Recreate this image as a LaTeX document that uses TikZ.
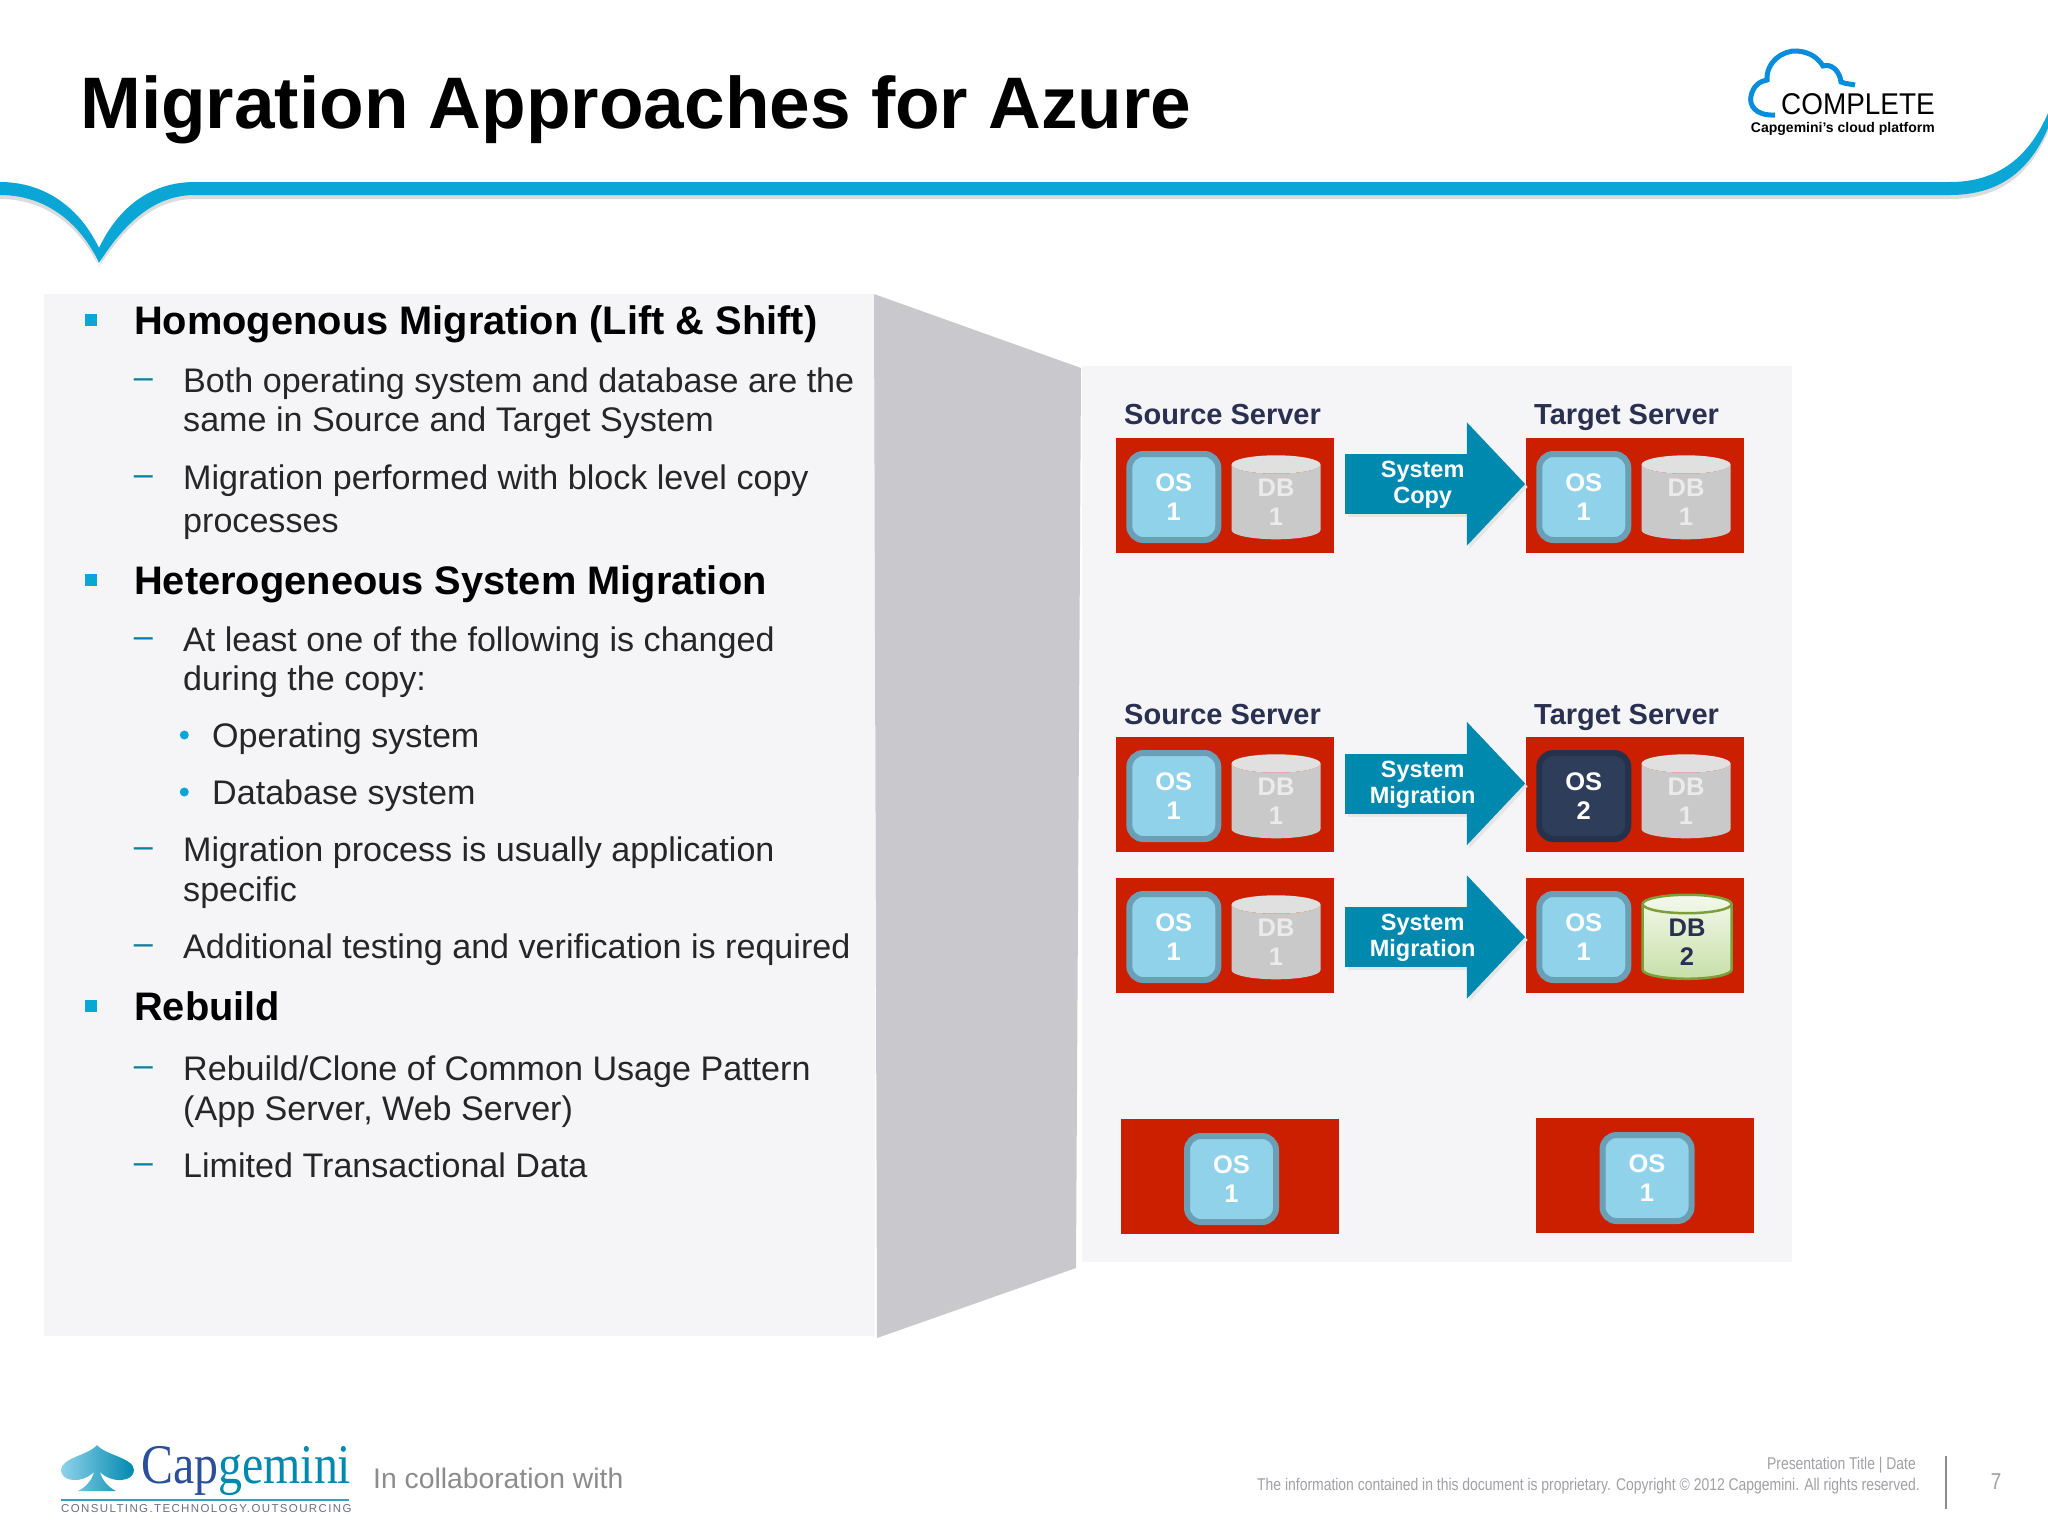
\documentclass[tikz,border=0pt]{standalone}
\usepackage{fontspec}
\setmainfont{Liberation Sans}
\newfontfamily\logoserif{Liberation Serif}
\usetikzlibrary{positioning,shapes.geometric,arrows.meta}

\definecolor{bandblue}{HTML}{0AA6D6}
\definecolor{panelgrey}{HTML}{F5F5F8}
\definecolor{wedgegrey}{HTML}{C9C8CC}
\definecolor{serverred}{HTML}{CC1F00}
\definecolor{headnavy}{HTML}{2A3050}
\definecolor{flowteal}{HTML}{0089AF}
\definecolor{dashteal}{HTML}{0D7F9F}
\definecolor{footgrey}{HTML}{A0A0A5}
\definecolor{logoblue}{HTML}{2B4F9B}

\tikzset{
  headtext/.style={anchor=west, inner sep=0pt, text height=36pt, text depth=8pt, font=\fontsize{39.8}{40}\selectfont\bfseries},
  subtext/.style={anchor=west, inner sep=0pt, text height=31pt, text depth=7pt, text=black!85, font=\fontsize{34.1}{34.1}\selectfont},
  sqbullet/.style={fill=bandblue, inner sep=0pt, minimum size=12pt},
  dashmark/.style={inner sep=0pt, text=dashteal, yshift=-4pt, font=\fontsize{34.1}{34.1}\selectfont},
  dotmark/.style={circle, fill=bandblue, inner sep=0pt, minimum size=9pt},
  servertitle/.style={anchor=west, inner sep=0pt, text height=27.5pt, text depth=6pt, text=headnavy, font=\fontsize{29}{29}\selectfont\bfseries},
  serverbox/.style={fill=serverred, inner sep=0pt, minimum width=218pt, minimum height=115pt},
  osbox/.style={draw=#1, line width=6pt, rounded corners=14pt, minimum width=89pt, minimum height=86pt, inner sep=0pt, align=center, text=white, font=\fontsize{25.5}{29.5}\selectfont\bfseries},
  osblue/.style={osbox=osedge, fill=osfill},
  osdark/.style={osbox=darkedge, fill=darkfill},
  dbbox/.style={cylinder, shape border rotate=90, aspect=0.5, minimum width=89pt, minimum height=84pt, inner sep=0pt, align=center, font=\fontsize{25.5}{29.5}\selectfont\bfseries},
  dbgrey/.style={dbbox, cylinder uses custom fill, cylinder end fill=black!12, cylinder body fill=black!21, text=white!92!black},
  dbgreen/.style={dbbox, draw=dbedge, line width=2.5pt, top color=dbtop, bottom color=dbbottom, text=headnavy},
  flowarrow/.style={draw=flowteal, line width=60pt, -{Triangle[length=58.5pt,width=120pt]}},
  flowshadow/.style={draw=black!10, line width=60pt, -{Triangle[length=58.5pt,width=120pt]}},
  flowlabel/.style={inner sep=0pt, align=center, text=white, yshift=-1pt, font=\fontsize{23.5}{26}\selectfont\bfseries},
  footnote/.style={inner sep=0pt, text=footgrey, xscale=.82, transform shape, font=\fontsize{17}{17}\selectfont}
}
\definecolor{osfill}{HTML}{8FD2EA}
\definecolor{osedge}{HTML}{6A9FB5}
\definecolor{darkfill}{HTML}{2E3D59}
\definecolor{darkedge}{HTML}{26324C}
\definecolor{dbedge}{HTML}{7D9F3A}
\definecolor{dbtop}{HTML}{F4F9EC}
\definecolor{dbbottom}{HTML}{C7E0A8}

\begin{document}
\begin{tikzpicture}[x=1pt,y=-1pt]
\useasboundingbox (0,0) rectangle (2048,1536);

% ======================================
% HEADER: TITLE, BAND AND CLOUD
% ======================================
\fill[black!14] (0,186) .. controls (45,186) and (80,212) .. (99,267) .. controls (118,212) and (150,186) .. (195,186) -- (1950,186) .. controls (2000,186) and (2030,159) .. (2048,117) -- (2048,132) .. controls (2030,174) and (2000,199) .. (1950,199) -- (195,199) .. controls (155,199) and (125,226) .. (99,267) .. controls (80,226) and (45,199) .. (0,199) -- cycle;
\fill[bandblue] (0,182) .. controls (45,182) and (80,208) .. (99,248) .. controls (118,208) and (150,182) .. (195,182) -- (1950,182) .. controls (2000,182) and (2030,155) .. (2048,113) -- (2048,128) .. controls (2030,170) and (2000,195) .. (1950,195) -- (195,195) .. controls (155,195) and (125,222) .. (99,263) .. controls (80,222) and (45,195) .. (0,195) -- cycle;

\node[anchor=west, inner sep=0pt, font=\fontsize{73}{73}\selectfont\bfseries] (title) at (80,110) {Migration Approaches for Azure};

\draw[line width=5pt, color=bandblue!85!blue] (1775,115) .. controls (1755,116) and (1749,105) .. (1751,96) .. controls (1753,86) and (1760,81) .. (1767,80) .. controls (1766,62) and (1783,50) .. (1797,51) .. controls (1810,52) and (1818,58) .. (1823,66) .. controls (1832,63) and (1840,72) .. (1841,82) .. controls (1846,84) and (1851,84) .. (1855,85);
\node[anchor=west, inner sep=0pt, font=\fontsize{30}{30}\selectfont, xscale=.93, transform shape] (complete) at (1781,104) {COMPLETE};
\node[anchor=east, inner sep=0pt, font=\fontsize{14}{14}\selectfont\bfseries] (platform) at (1935,129) {Capgemini’s cloud platform};

% ======================================
% LEFT PANEL AND WEDGE
% ======================================
\fill[panelgrey] (44,294) rectangle (875,1336);
\fill[panelgrey] (1082,366) rectangle (1792,1262);
\fill[wedgegrey] (874,294) -- (1081,368) -- (1076,1268) -- (877,1338) -- cycle;

% ======================================
% BLOCK 1: HOMOGENOUS
% ======================================
\node[headtext] (homog) at (134,320) {Homogenous Migration (Lift \& Shift)};
\node[sqbullet, left=37pt of homog] (homogmark) {};
\node[subtext] (both) at (183,380) {Both operating system and database are the};
\node[subtext] (same) at (183,419) {same in Source and Target System};
\node[dashmark, left=30pt of both] (bothmark) {--};
\node[subtext] (block) at (183,477) {Migration performed with block level copy};
\node[subtext] (procs) at (183,520) {processes};
\node[dashmark, left=30pt of block] (blockmark) {--};

% ======================================
% BLOCK 2: HETEROGENEOUS
% ======================================
\node[headtext] (heter) at (134,580) {Heterogeneous System Migration};
\node[sqbullet, left=37pt of heter] (hetermark) {};
\node[subtext] (least) at (183,639) {At least one of the following is changed};
\node[subtext] (during) at (183,678) {during the copy:};
\node[dashmark, left=30pt of least] (leastmark) {--};
\node[subtext] (opsys) at (212,735) {Operating system};
\node[dotmark, left=23pt of opsys] (opsysmark) {};
\node[subtext] (dbsys) at (212,792) {Database system};
\node[dotmark, left=23pt of dbsys] (dbsysmark) {};
\node[subtext] (appl) at (183,849) {Migration process is usually application};
\node[subtext] (specif) at (183,889) {specific};
\node[dashmark, left=30pt of appl] (applmark) {--};
\node[subtext] (addit) at (183,946) {Additional testing and verification is required};
\node[dashmark, left=30pt of addit] (additmark) {--};

% ======================================
% BLOCK 3: REBUILD
% ======================================
\node[headtext] (rebuild) at (134,1006) {Rebuild};
\node[sqbullet, left=37pt of rebuild] (rebuildmark) {};
\node[subtext] (clone) at (183,1068) {Rebuild/Clone of Common Usage Pattern};
\node[subtext] (appsrv) at (183,1108) {(App Server, Web Server)};
\node[dashmark, left=30pt of clone] (clonemark) {--};
\node[subtext] (limit) at (183,1165) {Limited Transactional Data};
\node[dashmark, left=30pt of limit] (limitmark) {--};

% ======================================
% ROW 1: SYSTEM COPY
% ======================================
\node[servertitle] (srctitlea) at (1124,414) {Source Server};
\node[servertitle] (tgttitlea) at (1534,414) {Target Server};
\node[serverbox] (srca) at (1224.5,495) {};
\node[serverbox] (tgta) at (1634.5,495) {};
\node[osblue, right=11pt of srca.west, yshift=-2pt] (osa) {OS\\1};
\node[dbgrey, right=116pt of srca.west, yshift=-7pt] (dba) {DB\\1};
\node[osblue, right=11pt of tgta.west, yshift=-2pt] (osb) {OS\\1};
\node[dbgrey, right=116pt of tgta.west, yshift=-7pt] (dbb) {DB\\1};
\draw[flowshadow] ([xshift=14pt,yshift=8pt]srca.east) -- ([xshift=2.5pt,yshift=8pt]tgta.west);
\draw[flowarrow] ([xshift=11.5pt,yshift=11pt]srca.east) -- ([yshift=11pt]tgta.west) node[pos=.43, flowlabel] (copy) {System\\Copy};

% ======================================
% ROW 2: OS CHANGED
% ======================================
\node[servertitle] (srctitleb) at (1124,714) {Source Server};
\node[servertitle] (tgttitleb) at (1534,714) {Target Server};
\node[serverbox] (srcb) at (1224.5,794) {};
\node[serverbox] (tgtb) at (1634.5,794) {};
\node[osblue, right=11pt of srcb.west, yshift=-2pt] (osc) {OS\\1};
\node[dbgrey, right=116pt of srcb.west, yshift=-7pt] (dbc) {DB\\1};
\node[osdark, right=11pt of tgtb.west, yshift=-2pt] (osd) {OS\\2};
\node[dbgrey, right=116pt of tgtb.west, yshift=-7pt] (dbd) {DB\\1};
\draw[flowshadow] ([xshift=14pt,yshift=7.5pt]srcb.east) -- ([xshift=2.5pt,yshift=7.5pt]tgtb.west);
\draw[flowarrow] ([xshift=11.5pt,yshift=10.5pt]srcb.east) -- ([yshift=10.5pt]tgtb.west) node[pos=.43, flowlabel] (migra) {System\\Migration};

% ======================================
% ROW 3: DB CHANGED
% ======================================
\node[serverbox] (srcc) at (1224.5,935) {};
\node[serverbox] (tgtc) at (1634.5,935) {};
\node[osblue, right=11pt of srcc.west, yshift=-2pt] (ose) {OS\\1};
\node[dbgrey, right=116pt of srcc.west, yshift=-7pt] (dbe) {DB\\1};
\node[osblue, right=11pt of tgtc.west, yshift=-2pt] (osf) {OS\\1};
\node[dbgreen, right=116pt of tgtc.west, yshift=-7pt] (dbf) {DB\\2};
\draw[flowshadow] ([xshift=14pt,yshift=-5pt]srcc.east) -- ([xshift=2.5pt,yshift=-5pt]tgtc.west);
\draw[flowarrow] ([xshift=11.5pt,yshift=-2pt]srcc.east) -- ([yshift=-2pt]tgtc.west) node[pos=.43, flowlabel] (migrb) {System\\Migration};

% ======================================
% ROW 4: REBUILD
% ======================================
\node[serverbox] (srcd) at (1229.5,1176.5) {};
\node[serverbox] (tgtd) at (1645,1175.5) {};
\node[osblue, xshift=2pt, yshift=-2.5pt] (osg) at (srcd) {OS\\1};
\node[osblue, xshift=2pt, yshift=-2.5pt] (osh) at (tgtd) {OS\\1};

% ======================================
% FOOTER
% ======================================
\shade[left color=osfill, right color=flowteal] (97,1445) .. controls (105,1455) and (134,1458) .. (134,1470) .. controls (134,1482) and (112,1484) .. (100,1472) .. controls (102,1480) and (108,1487) .. (116,1491) -- (78,1491) .. controls (86,1487) and (92,1480) .. (94,1472) .. controls (82,1484) and (61,1482) .. (61,1470) .. controls (61,1458) and (89,1455) .. (97,1445) -- cycle;
\node[anchor=base west, inner sep=0pt, xscale=.855, transform shape, font=\fontsize{56}{56}\selectfont\logoserif] (capgem) at (141,1483) {\textcolor{logoblue}{Cap}\textcolor{flowteal}{gemini}};
\draw[line width=2pt, color=flowteal!80] (61,1500) -- (349,1500);
\node[anchor=west, inner sep=0pt, text=headnavy!70, font=\fontsize{11.5}{11.5}\selectfont] (tagline) at (61,1509) {\addfontfeature{LetterSpace=12}CONSULTING.TECHNOLOGY.OUTSOURCING};
\node[anchor=west, inner sep=0pt, text=black!45, font=\fontsize{28.3}{28.3}\selectfont] (collab) at (373,1478) {In collaboration with};

\node[footnote, anchor=east] (pres) at (1916,1465) {Presentation Title | Date};
\node[footnote, anchor=east] (legal) at (1920,1486) {The information contained in this document is proprietary. Copyright © 2012 Capgemini. All rights reserved.};
\draw[line width=1.5pt, color=black!45] (1946,1456) -- (1946,1509);
\node[footnote, font=\fontsize{23}{23}\selectfont] (page) at (1996,1482) {7};

\end{tikzpicture}
\end{document}
